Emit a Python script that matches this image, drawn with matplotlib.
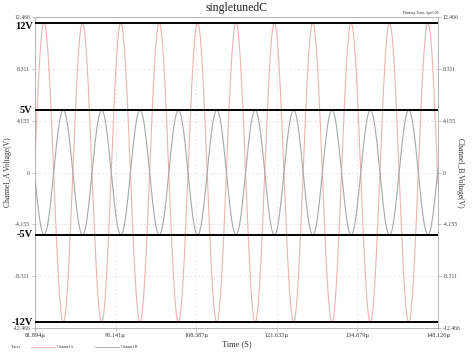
import numpy as np
import matplotlib
matplotlib.use("Agg")
import matplotlib.pyplot as plt

# time window (microseconds) and tick labels
t_start, t_end = 81.894, 148.126
x_ticks = [81.894, 95.141, 108.387, 121.633, 134.879, 148.126]
y_ticks = [-12.466, -8.311, -4.155, 0, 4.155, 8.311, 12.466]

# the two traces: amplitude (V), period (us), time of first peak (us)
trace_names = ["Channel A", "Channel B"]
trace_amp = [12.0, 5.0]
trace_period = [6.31, 6.31]
trace_first_peak = [83.37, 86.53]
trace_colors = ["#ebb3b3", "#a3aaa8"]

# reference levels drawn as thick black lines, and where their labels sit
level_values = [12, 5, -5, -12]
level_labels = ["12V", "5V", "-5V", "-12V"]
label_y = [11.7, 5, -5, -12]

plt.rcParams['font.family'] = ['Liberation Serif', 'DejaVu Serif']

fig = plt.figure(figsize=(4.74, 3.55), dpi=100)
ax = fig.add_axes([0.074, 0.076, 0.850, 0.876])

t = np.linspace(t_start, t_end, 4000)
for amp, per, pk, col, name in zip(trace_amp, trace_period, trace_first_peak,
                                    trace_colors, trace_names):
    ax.plot(t, amp * np.cos(2 * np.pi * (t - pk) / per), color=col, lw=0.8, label=name)

for v in level_values:
    ax.axhline(v, color="black", lw=1.4, zorder=3)

ax.set_xlim(t_start, t_end)
ax.set_ylim(-12.466, 12.466)
ax.set_xticks(x_ticks)
ax.set_xticklabels([f"{v:.3f}\u00b5" for v in x_ticks], fontsize=4.5, color="#333333")
ax.set_yticks(y_ticks)
ax.set_yticklabels([f"{v:g}" for v in y_ticks], fontsize=4.2, color="#444444")
ax.tick_params(length=2, width=0.4, color="#999999", pad=1.5)
ax.grid(True, color="#ead8d8", lw=0.5, ls=(0, (3, 3)))
for s in ax.spines.values():
    s.set_color("#aaaaaa")
    s.set_linewidth(0.6)

ax2 = ax.twinx()
ax2.set_ylim(-12.466, 12.466)
ax2.set_yticks(y_ticks)
ax2.set_yticklabels([f"{v:g}" for v in y_ticks], fontsize=4.2, color="#444444")
ax2.tick_params(length=2, width=0.4, color="#999999", pad=1.5)
for s in ax2.spines.values():
    s.set_visible(False)

for ly, lab in zip(label_y, level_labels):
    ax.text(-0.006, ly, lab, transform=ax.get_yaxis_transform(), ha="right", va="center",
            fontsize=7.5, fontweight="bold", color="black")

ax.set_ylabel("Channel_A Voltage(V)", fontsize=5.5, color="#333333")
ax.yaxis.set_label_coords(-0.058, 0.5)
ax2.set_ylabel("Channel_B Voltage(V)", fontsize=5.5, color="#333333", rotation=270, va="center")
ax2.yaxis.set_label_coords(1.055, 0.5)
ax.set_xlabel("Time (S)", fontsize=6, color="#333333", labelpad=2)
fig.text(0.5, 0.978, "singletunedC", ha="center", va="center", fontsize=8.5, color="#222222")
fig.text(0.925, 0.962, "Printing Time:April 08", ha="right", va="center", fontsize=2.8, color="#333333")

# little legend along the bottom edge
fig.text(0.022, 0.022, "Traces", fontsize=2.8, color="#333333", va="center")
lx = [0.065, 0.20]
for x0, col, name in zip(lx, trace_colors, trace_names):
    fig.add_artist(plt.Line2D([x0, x0 + 0.05], [0.022, 0.022], color=col, lw=0.7))
    fig.text(x0 + 0.055, 0.022, name, fontsize=2.8, color="#333333", va="center")

fig.savefig("out.png", dpi=100)
